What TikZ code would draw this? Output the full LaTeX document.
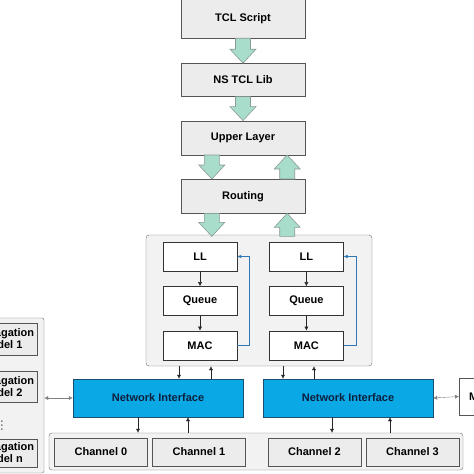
\documentclass[tikz,border=0pt]{standalone}
\usepackage{xcolor}
\usepackage{fontspec}
\setmainfont{Liberation Sans}
\usetikzlibrary{arrows.meta, positioning, calc}
\definecolor{boxgray}{HTML}{ECECEC}
\definecolor{boxedge}{HTML}{555555}
\definecolor{contgray}{HTML}{F2F2F2}
\definecolor{contedge}{HTML}{6E6E6E}
\definecolor{nicblue}{HTML}{0BA8E6}
\definecolor{nicedge}{HTML}{1B4F72}
\definecolor{nictext}{HTML}{0D1F3C}
\definecolor{fbblue}{HTML}{2F78B5}
\definecolor{mint}{HTML}{A8DCCB}
\definecolor{fatedge}{HTML}{8A9A95}

\begin{document}
\begin{tikzpicture}[
  x=1pt, y=-1pt,
  node distance=24pt,
  font=\fontsize{11}{13}\selectfont\bfseries,
  layer/.style={rectangle, draw=boxedge, fill=boxgray, minimum width=124pt,
                minimum height=34pt, inner sep=0pt},
  cont/.style={rectangle, rounded corners=3pt, draw=contedge, fill=contgray,
               inner sep=0pt},
  unit/.style={rectangle, draw=black!80, fill=white, minimum width=74pt,
               minimum height=29pt, inner sep=0pt},
  nic/.style={rectangle, draw=nicedge, fill=nicblue, text=nictext,
              minimum width=170pt, minimum height=38pt, inner sep=0pt},
  chan/.style={rectangle, draw=boxedge, fill=boxgray, minimum width=93pt,
               minimum height=28pt, inner sep=0pt},
  prop/.style={rectangle, draw=boxedge, fill=boxgray, minimum width=70pt,
               align=center, inner sep=0pt, font=\fontsize{11}{12}\selectfont\bfseries},
  arr/.style={-{Latex[length=4pt,width=4pt]}, black!85},
  dbl/.style={{Latex[length=4pt,width=4pt]}-{Latex[length=4pt,width=4pt]}, gray},
  fb/.style={-{Latex[length=4pt,width=3.5pt]}, fbblue},
  fat/.style={draw=fatedge, fill=mint, line width=0.6pt},
  fatdown/.pic={\path[fat] (-7.5,0) -- (7.5,0) -- (7.5,#1-14) -- (13,#1-14)
                -- (0,#1) -- (-13,#1-14) -- (-7.5,#1-14) -- cycle;},
  fatup/.pic={\path[fat] (0,0) -- (13,14) -- (7.5,14) -- (7.5,#1)
              -- (-7.5,#1) -- (-7.5,14) -- (-13,14) -- cycle;}
]
  \useasboundingbox (0,0) rectangle (474,474);
  \clip (0,0) rectangle (474,474);

  % upper stack
  \node[layer, minimum height=39pt] (tcl) at (243,18.5) {TCL Script};
  \node[layer, minimum height=33pt, below=25pt of tcl] (lib) {NS TCL Lib};
  \node[layer, below=of lib] (upper) {Upper Layer};
  \node[layer, below=of upper] (routing) {Routing};

  % link layer stack
  \node[cont, minimum width=226pt, minimum height=131pt] (stack) at (259,300.5) {};
  \node[unit] (llL) at (200,256.5) {LL};
  \node[unit, below=15pt of llL] (quL) {Queue};
  \node[unit, below=15pt of quL] (macL) {MAC};
  \node[unit, right=32pt of llL] (llR) {LL};
  \node[unit, below=15pt of llR] (quR) {Queue};
  \node[unit, below=15pt of quR] (macR) {MAC};

  % interfaces and channels
  \node[nic] (nil) at (158,398) {Network Interface};
  \node[nic] (nir) at (348,398) {Network Interface};
  \node[cont, minimum width=414pt, minimum height=37pt] (chans) at (256,451.5) {};
  \node[chan] (ch0) at (101,452) {Channel 0};
  \node[chan] (ch1) at (199,452) {Channel 1};
  \node[chan] (ch2) at (314.5,452) {Channel 2};
  \node[chan] (ch3) at (412.5,452) {Channel 3};

  % propagation models (cut at the left edge)
  \node[cont, rounded corners=2pt, minimum width=60pt, minimum height=155pt] (props) at (14,395.5) {};
  \node[prop, minimum height=32pt] (pm1) at (2,339) {Propagation\\Model 1};
  \node[prop, minimum height=31pt] (pm2) at (2,386.5) {Propagation\\Model 2};
  \node[text=gray] (pdots) at (2,423) {$\vdots$};
  \node[prop, minimum height=28pt] (pmn) at (2,453) {Propagation\\Model n};

  % box cut at the right edge
  \node[layer, fill=white, anchor=west, minimum width=70pt, minimum height=37pt,
        text width=50pt, align=left] (ext) at (459,396.5) {M};

  % big arrows
  \pic at (tcl.south) {fatdown=25};
  \pic at (lib.south) {fatdown=24};
  \pic at ([xshift=31pt]upper.south west) {fatdown=24};
  \pic at ([xshift=-18pt]upper.south east) {fatup=24};
  \pic at ([xshift=31pt]routing.south west) {fatdown=23};
  \pic at ([xshift=-18pt]routing.south east) {fatup=23};

  \draw[arr] (llL) -- (quL);
  \draw[arr] (quL) -- (macL);
  \draw[arr] (llR) -- (quR);
  \draw[arr] (quR) -- (macR);
  \draw[fb] (macL.east) -- ++(12,0) |- (llL.east);
  \draw[fb] (macR.east) -- ++(13,0) |- (llR.east);

  \draw[arr] (179,0 |- stack.south) -- (179,0 |- nil.north);
  \draw[arr] (211,0 |- nil.north) -- (211,0 |- stack.south);
  \draw[arr] (283,0 |- stack.south) -- (283,0 |- nir.north);
  \draw[arr] (314,0 |- nir.north) -- (314,0 |- stack.south);
  \draw[arr] (138,0 |- nil.south) -- (138,0 |- chans.north);
  \draw[arr] (188,0 |- chans.north) -- (188,0 |- nil.south);
  \draw[arr] (332,0 |- nir.south) -- (332,0 |- chans.north);
  \draw[arr] (390,0 |- chans.north) -- (390,0 |- nir.south);

  \draw[dbl] (props.east |- nil.west) -- (nil.west);
  \draw[dbl] (nir.east) -- (ext.west);
\end{tikzpicture}
\end{document}
